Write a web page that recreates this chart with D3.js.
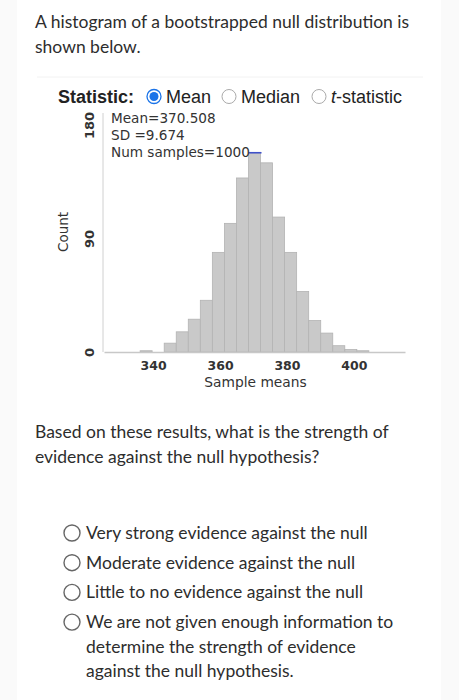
<!DOCTYPE html>
<html>
<head>
<meta charset="utf-8">
<script src="https://cdn.jsdelivr.net/npm/d3@7.9.0/dist/d3.min.js"></script>
<style>
  html, body { margin: 0; padding: 0; background: #fff; }
  svg { display: block; }
</style>
</head>
<body>
<svg id="page" width="459" height="700"></svg>
<script>
// bin edges of the histogram (sample means)
const binStart = 325.3;
const binWidth = 3.6;
// counts per bin (25 bins)
const counts = [0, 0, 0, 1, 0, 7, 16, 26, 41, 79, 102, 138, 158, 150, 107, 79, 48, 25, 15, 5, 2, 1, 0, 0, 0];
const xTicks = [340, 360, 380, 400];
const yTicks = [0, 90, 180];
const stats = ["Mean=370.508", "SD =9.674", "Num samples=1000"];
const statChoices = ["Mean", "Median", "t-statistic"];
const introLines = ["A histogram of a bootstrapped null distribution is", "shown below."];
const questionLines = ["Based on these results, what is the strength of", "evidence against the null hypothesis?"];
const options = [
  ["Very strong evidence against the null"],
  ["Moderate evidence against the null"],
  ["Little to no evidence against the null"],
  ["We are not given enough information to", "determine the strength of evidence", "against the null hypothesis."]
];

const svg = d3.select("#page");
const lato = "Lato, 'Open Sans', sans-serif";
const chartFont = "'DejaVu Sans', Verdana, sans-serif";

// page background + card
svg.append("rect").attr("width", 459).attr("height", 700).attr("fill", "#fafafa");
svg.append("rect").attr("x", 17).attr("y", 0).attr("width", 424).attr("height", 700).attr("fill", "#fff");

// intro text
introLines.forEach((t, i) => {
  svg.append("text").attr("x", 35).attr("y", 28 + i * 24.5)
    .attr("font-family", lato).attr("font-size", 17.5).attr("fill", "#2d2d2d").text(t);
});

// chart panel (faint top edge only)
svg.append("line").attr("x1", 37).attr("x2", 423).attr("y1", 77).attr("y2", 77)
  .attr("stroke", "#f2f2f2");

// statistic selector
const sel = svg.append("g").attr("font-family", "'Liberation Sans', Arial, sans-serif").attr("font-size", 18).attr("fill", "#222");
sel.append("text").attr("x", 58).attr("y", 103).attr("font-weight", "bold").text("Statistic:");
const radioX = [154, 229, 319];
statChoices.forEach((c, i) => {
  sel.append("circle").attr("cx", radioX[i]).attr("cy", 96.5).attr("r", 7)
    .attr("fill", "#fff").attr("stroke", i === 0 ? "#1a73e8" : "#aaa").attr("stroke-width", i === 0 ? 1.3 : 1);
  if (i === 0) sel.append("circle").attr("cx", radioX[i]).attr("cy", 96.5).attr("r", 4.5).attr("fill", "#1a73e8");
  const t = sel.append("text").attr("x", radioX[i] + 12).attr("y", 103);
  if (c === "t-statistic") {
    t.append("tspan").attr("font-style", "italic").text("t");
    t.append("tspan").text("-statistic");
  } else t.text(c);
});

// histogram
const x = d3.scaleLinear().domain([binStart, binStart + binWidth * counts.length]).range([104, 405]);
const y = d3.scaleLinear().domain([0, 180]).range([352, 125]);
const bins = counts.map((c, i) => ({ x0: binStart + i * binWidth, x1: binStart + (i + 1) * binWidth, count: c }));

const chart = svg.append("g");
chart.selectAll("rect.bar").data(bins).join("rect").attr("class", "bar")
  .attr("x", d => x(d.x0)).attr("width", d => x(d.x1) - x(d.x0))
  .attr("y", d => y(d.count)).attr("height", d => y(0) - y(d.count))
  .attr("fill", "#c9c9c9").attr("stroke", "#b3b3b3").attr("stroke-width", 0.8);

// highlighted top of tallest bar
const peak = bins.reduce((a, b) => (b.count > a.count ? b : a));
chart.append("line").attr("x1", x(peak.x0)).attr("x2", x(peak.x1) + 1)
  .attr("y1", y(peak.count)).attr("y2", y(peak.count))
  .attr("stroke", "#3f51c9").attr("stroke-width", 1.6);

// x axis
const xAxis = chart.append("g").attr("transform", `translate(0,${y(0)})`)
  .call(d3.axisBottom(x).tickValues(xTicks).tickSize(0).tickPadding(9));
xAxis.select(".domain").attr("stroke", "#c8c8c8").attr("stroke-width", 1.5);
xAxis.selectAll("text").attr("font-family", chartFont).attr("font-size", 12.5)
  .attr("font-weight", "bold").attr("fill", "#333");

// y axis
const yAxis = chart.append("g").attr("transform", `translate(${x.range()[0] - 1},0)`)
  .call(d3.axisLeft(y).tickValues(yTicks).tickSize(0).tickFormat(d3.format("d")));
yAxis.select(".domain").attr("stroke", "#d0d0d0").attr("d", `M0,${y(0)}V113`);
yAxis.selectAll(".tick text")
  .attr("font-family", chartFont).attr("font-size", 13).attr("font-weight", "bold").attr("fill", "#333")
  .attr("transform", "rotate(-90)").attr("x", 0).attr("y", -9).attr("dy", 0)
  .attr("text-anchor", "middle");

chart.append("text").attr("transform", `translate(68,232) rotate(-90)`)
  .attr("text-anchor", "middle").attr("font-family", chartFont).attr("font-size", 13.5).attr("fill", "#333")
  .text("Count");
chart.append("text").attr("x", (x.range()[0] + x.range()[1]) / 2 + 1).attr("y", 387)
  .attr("text-anchor", "middle").attr("font-family", chartFont).attr("font-size", 13.8).attr("fill", "#333")
  .text("Sample means");

// summary stats
stats.forEach((s, i) => {
  chart.append("text").attr("x", 111).attr("y", 123 + i * 17)
    .attr("font-family", chartFont).attr("font-size", 13.6).attr("fill", "#333").text(s);
});

// question
questionLines.forEach((t, i) => {
  svg.append("text").attr("x", 35).attr("y", 438 + i * 24.5)
    .attr("font-family", lato).attr("font-size", 17.5).attr("fill", "#2d2d2d").text(t);
});

// answer options
let lineY = 539;
options.forEach(lines => {
  svg.append("circle").attr("cx", 72).attr("cy", lineY - 6).attr("r", 8)
    .attr("fill", "#fff").attr("stroke", "#666").attr("stroke-width", 1.4);
  lines.forEach((t, j) => {
    svg.append("text").attr("x", 86).attr("y", lineY + j * 24.5)
      .attr("font-family", lato).attr("font-size", 17.5).attr("fill", "#2d2d2d").text(t);
  });
  lineY += 29.7;
});
</script>
</body>
</html>
